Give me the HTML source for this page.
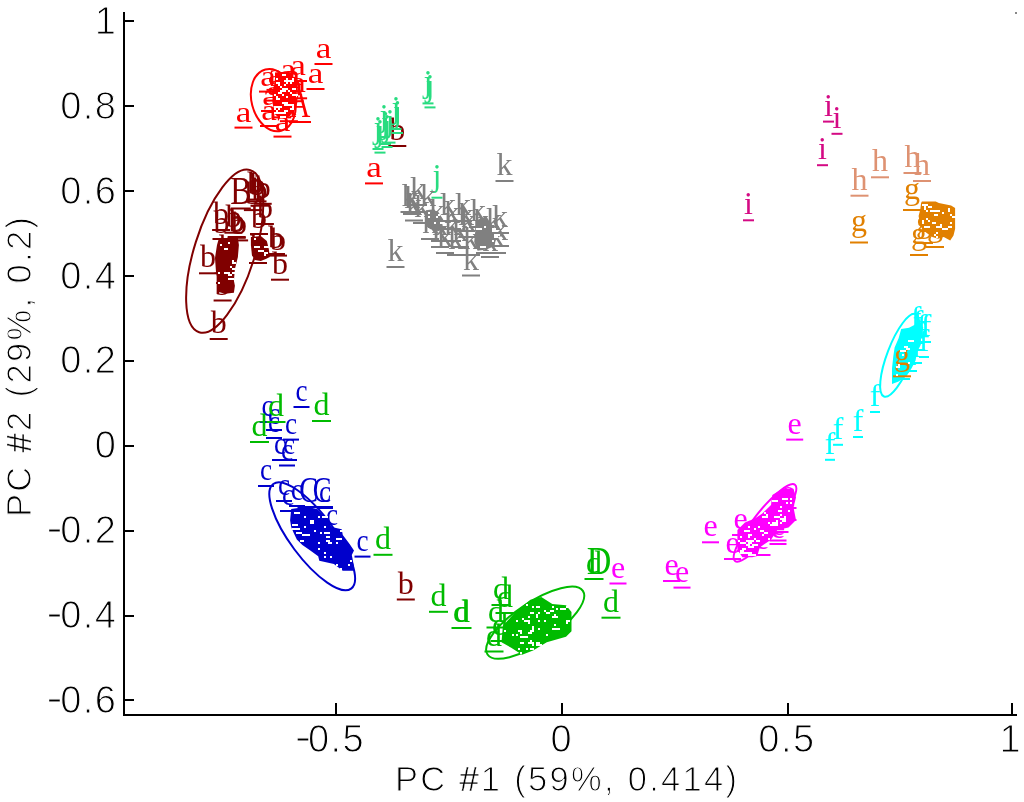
<!DOCTYPE html>
<html><head><meta charset="utf-8"><style>
html,body{margin:0;padding:0;background:#fff;}
body{width:1024px;height:802px;overflow:hidden;}
svg{display:block;}
.l{font-family:"Liberation Serif",serif;}
.th{stroke:#fff;stroke-width:1.1px;}
</style></head><body>
<svg width="1024" height="802" viewBox="0 0 1024 802">
<rect x="123" y="12" width="2" height="704" fill="#000"/>
<rect x="123" y="714" width="894" height="2" fill="#000"/>
<rect x="125" y="20" width="9" height="2" fill="#000"/>
<rect x="125" y="105" width="9" height="2" fill="#000"/>
<rect x="125" y="190" width="9" height="2" fill="#000"/>
<rect x="125" y="275" width="9" height="2" fill="#000"/>
<rect x="125" y="360" width="9" height="2" fill="#000"/>
<rect x="125" y="445" width="9" height="2" fill="#000"/>
<rect x="125" y="530" width="9" height="2" fill="#000"/>
<rect x="125" y="615" width="9" height="2" fill="#000"/>
<rect x="125" y="699" width="9" height="2" fill="#000"/>
<rect x="335" y="703" width="2" height="11" fill="#000"/>
<rect x="561" y="703" width="2" height="11" fill="#000"/>
<rect x="787" y="703" width="2" height="11" fill="#000"/>
<rect x="1011" y="703" width="2" height="11" fill="#000"/>
<text x="117.5" y="33.9" text-anchor="end" class="th" style="font-family:'Liberation Sans',sans-serif;font-size:38px;letter-spacing:1.5px">1</text>
<text x="117.5" y="118.8" text-anchor="end" class="th" style="font-family:'Liberation Sans',sans-serif;font-size:38px;letter-spacing:1.5px">0.8</text>
<text x="117.5" y="203.7" text-anchor="end" class="th" style="font-family:'Liberation Sans',sans-serif;font-size:38px;letter-spacing:1.5px">0.6</text>
<text x="117.5" y="288.5" text-anchor="end" class="th" style="font-family:'Liberation Sans',sans-serif;font-size:38px;letter-spacing:1.5px">0.4</text>
<text x="117.5" y="373.4" text-anchor="end" class="th" style="font-family:'Liberation Sans',sans-serif;font-size:38px;letter-spacing:1.5px">0.2</text>
<text x="117.5" y="458.3" text-anchor="end" class="th" style="font-family:'Liberation Sans',sans-serif;font-size:38px;letter-spacing:1.5px">0</text>
<text x="117.5" y="543.2" text-anchor="end" class="th" style="font-family:'Liberation Sans',sans-serif;font-size:38px;letter-spacing:1.5px">0.2</text>
<text transform="translate(54.5 541.2) scale(1.3 1)" text-anchor="middle" class="th" style="font-family:'Liberation Sans',sans-serif;font-size:38px;">-</text>
<text x="117.5" y="628.1" text-anchor="end" class="th" style="font-family:'Liberation Sans',sans-serif;font-size:38px;letter-spacing:1.5px">0.4</text>
<text transform="translate(54.5 626.1) scale(1.3 1)" text-anchor="middle" class="th" style="font-family:'Liberation Sans',sans-serif;font-size:38px;">-</text>
<text x="117.5" y="712.9" text-anchor="end" class="th" style="font-family:'Liberation Sans',sans-serif;font-size:38px;letter-spacing:1.5px">0.6</text>
<text transform="translate(54.5 710.9) scale(1.3 1)" text-anchor="middle" class="th" style="font-family:'Liberation Sans',sans-serif;font-size:38px;">-</text>
<text x="336.6" y="751.5" text-anchor="middle" class="th" style="font-family:'Liberation Sans',sans-serif;font-size:38px;letter-spacing:1.5px">0.5</text>
<text transform="translate(303 749.5) scale(1.3 1)" text-anchor="middle" class="th" style="font-family:'Liberation Sans',sans-serif;font-size:38px;">-</text>
<text x="561.8" y="751.5" text-anchor="middle" class="th" style="font-family:'Liberation Sans',sans-serif;font-size:38px;letter-spacing:1.5px">0</text>
<text x="787.0" y="751.5" text-anchor="middle" class="th" style="font-family:'Liberation Sans',sans-serif;font-size:38px;letter-spacing:1.5px">0.5</text>
<text x="1010.7" y="751.5" text-anchor="middle" class="th" style="font-family:'Liberation Sans',sans-serif;font-size:38px;letter-spacing:1.5px">1</text>
<text x="395" y="791" class="th" style="font-family:'Liberation Sans',sans-serif;font-size:34.5px;" textLength="342" lengthAdjust="spacing">PC <tspan style="stroke-width:0.3px">#</tspan>1 (59%, 0.414)</text>
<text transform="translate(31,517) rotate(-90)" x="0" y="0" class="th" style="font-family:'Liberation Sans',sans-serif;font-size:34.5px;" textLength="300" lengthAdjust="spacing">PC <tspan style="stroke-width:0.3px">#</tspan>2 (29%, 0.2)</text>
<rect x="1015" y="12" width="2" height="2" fill="#888"/>
<ellipse cx="273.3" cy="100.1" rx="21.7" ry="31.7" transform="rotate(-14.5 273.3 100.1)" fill="none" stroke="#ff0000" stroke-width="2"/>
<polygon points="275.0,72.5 285.4,71.7 291.4,72.5 294.4,80.0 297.4,82.2 297.4,89.7 295.9,96.4 297.4,102.4 295.9,106.9 292.9,111.4 289.9,115.9 284.7,118.9 278.7,117.4 273.5,112.9 273.5,106.9 272.7,100.9 273.5,94.9 272.7,90.4 274.2,84.5 275.0,78.5" fill="#ff0000"/>
<text class="l" transform="translate(292.4 85.3) scale(1.1 0.9)" fill="#ff0000" font-size="32" text-anchor="middle">a</text>
<rect x="283.4" y="90.3" width="18" height="2" fill="#ff0000"/>
<text class="l" transform="translate(283.9 96.2) scale(1.1 0.9)" fill="#ff0000" font-size="32" text-anchor="middle">a</text>
<rect x="274.9" y="101.2" width="18" height="2" fill="#ff0000"/>
<text class="l" transform="translate(288.9 115.2) scale(1.1 0.9)" fill="#ff0000" font-size="32" text-anchor="middle">a</text>
<rect x="279.9" y="120.2" width="18" height="2" fill="#ff0000"/>
<text class="l" transform="translate(294.7 95.2) scale(1.1 0.9)" fill="#ff0000" font-size="32" text-anchor="middle">a</text>
<rect x="285.7" y="100.2" width="18" height="2" fill="#ff0000"/>
<text class="l" transform="translate(282.3 111.4) scale(1.1 0.9)" fill="#ff0000" font-size="32" text-anchor="middle">a</text>
<rect x="273.3" y="116.4" width="18" height="2" fill="#ff0000"/>
<text class="l" transform="translate(298.1 92.3) scale(1.1 0.9)" fill="#ff0000" font-size="32" text-anchor="middle">a</text>
<rect x="289.1" y="97.3" width="18" height="2" fill="#ff0000"/>
<text class="l" transform="translate(274.9 94.6) scale(1.1 0.9)" fill="#ff0000" font-size="32" text-anchor="middle">a</text>
<rect x="265.9" y="99.6" width="18" height="2" fill="#ff0000"/>
<text class="l" transform="translate(282.0 98.8) scale(1.1 0.9)" fill="#ff0000" font-size="32" text-anchor="middle">a</text>
<rect x="273.0" y="103.8" width="18" height="2" fill="#ff0000"/>
<text class="l" transform="translate(275.5 83.9) scale(1.1 0.9)" fill="#ff0000" font-size="32" text-anchor="middle">a</text>
<rect x="266.5" y="88.9" width="18" height="2" fill="#ff0000"/>
<text class="l" transform="translate(298.0 75.0) scale(1.1 0.9)" fill="#ff0000" font-size="32" text-anchor="middle">a</text>
<rect x="289.0" y="80.0" width="18" height="2" fill="#ff0000"/>
<text class="l" transform="translate(288.0 79.0) scale(1.1 0.9)" fill="#ff0000" font-size="32" text-anchor="middle">a</text>
<rect x="279.0" y="84.0" width="18" height="2" fill="#ff0000"/>
<text class="l" transform="translate(268.0 85.6) scale(1.1 0.9)" fill="#ff0000" font-size="32" text-anchor="middle">a</text>
<rect x="259.0" y="90.6" width="18" height="2" fill="#ff0000"/>
<text class="l" transform="translate(269.0 120.0) scale(1.1 0.9)" fill="#ff0000" font-size="32" text-anchor="middle">a</text>
<rect x="260.0" y="125.0" width="18" height="2" fill="#ff0000"/>
<text class="l" transform="translate(282.5 130.6) scale(1.1 0.9)" fill="#ff0000" font-size="32" text-anchor="middle">a</text>
<rect x="273.5" y="135.6" width="18" height="2" fill="#ff0000"/>
<text class="l" transform="translate(270.0 105.0) scale(1.1 0.9)" fill="#ff0000" font-size="32" text-anchor="middle">a</text>
<rect x="261.0" y="110.0" width="18" height="2" fill="#ff0000"/>
<text class="l" transform="translate(300.0 117.0) scale(0.72 1.0)" fill="#ff0000" font-size="40" text-anchor="middle">A</text>
<rect x="289.0" y="121.0" width="22" height="2" fill="#ff0000"/>
<text class="l" transform="translate(323.5 58.0) scale(1.1 0.9)" fill="#ff0000" font-size="32" text-anchor="middle">a</text>
<rect x="314.5" y="63.0" width="18" height="2" fill="#ff0000"/>
<text class="l" transform="translate(315.5 83.0) scale(1.1 0.9)" fill="#ff0000" font-size="32" text-anchor="middle">a</text>
<rect x="306.5" y="88.0" width="18" height="2" fill="#ff0000"/>
<text class="l" transform="translate(243.5 121.6) scale(1.1 0.9)" fill="#ff0000" font-size="32" text-anchor="middle">a</text>
<rect x="234.5" y="126.6" width="18" height="2" fill="#ff0000"/>
<text class="l" transform="translate(374.0 177.4) scale(1.1 0.9)" fill="#ff0000" font-size="32" text-anchor="middle">a</text>
<rect x="365.0" y="182.4" width="18" height="2" fill="#ff0000"/>
<ellipse cx="224.7" cy="251.2" rx="30.3" ry="85" transform="rotate(17.5 224.7 251.2)" fill="none" stroke="#800000" stroke-width="2"/>
<polygon points="219.0,238.0 237.9,238.0 238.9,244.9 237.9,256.9 234.9,268.9 233.9,280.8 234.9,285.8 233.9,292.8 224.9,293.8 218.0,291.8 218.0,280.8 216.0,271.9 215.0,257.9 217.0,244.9" fill="#800000"/>
<polygon points="250.9,237.0 260.8,236.0 266.8,241.0 268.8,248.9 269.8,256.9 265.8,258.9 260.8,260.9 254.9,259.9 251.9,254.9 250.9,244.9" fill="#800000"/>
<text class="l" x="239.1" y="234.4" fill="#800000" font-size="32" text-anchor="middle">b</text>
<rect x="230.1" y="239.4" width="18" height="2" fill="#800000"/>
<text class="l" x="221.1" y="224.0" fill="#800000" font-size="32" text-anchor="middle">b</text>
<rect x="212.1" y="229.0" width="18" height="2" fill="#800000"/>
<text class="l" x="236.7" y="231.8" fill="#800000" font-size="32" text-anchor="middle">b</text>
<rect x="227.7" y="236.8" width="18" height="2" fill="#800000"/>
<text class="l" x="233.4" y="226.7" fill="#800000" font-size="32" text-anchor="middle">b</text>
<rect x="224.4" y="231.7" width="18" height="2" fill="#800000"/>
<text class="l" x="255.3" y="193.6" fill="#800000" font-size="32" text-anchor="middle">b</text>
<rect x="246.3" y="198.6" width="18" height="2" fill="#800000"/>
<text class="l" x="257.5" y="195.4" fill="#800000" font-size="32" text-anchor="middle">b</text>
<rect x="248.5" y="200.4" width="18" height="2" fill="#800000"/>
<text class="l" x="252.9" y="204.1" fill="#800000" font-size="32" text-anchor="middle">b</text>
<rect x="243.9" y="209.1" width="18" height="2" fill="#800000"/>
<text class="l" x="264.9" y="218.0" fill="#800000" font-size="32" text-anchor="middle">b</text>
<rect x="255.9" y="223.0" width="18" height="2" fill="#800000"/>
<text class="l" x="262.7" y="197.8" fill="#800000" font-size="32" text-anchor="middle">b</text>
<rect x="253.7" y="202.8" width="18" height="2" fill="#800000"/>
<text class="l" x="259.5" y="199.7" fill="#800000" font-size="32" text-anchor="middle">b</text>
<rect x="250.5" y="204.7" width="18" height="2" fill="#800000"/>
<text class="l" x="218.7" y="333.0" fill="#800000" font-size="32" text-anchor="middle">b</text>
<rect x="209.7" y="338.0" width="18" height="2" fill="#800000"/>
<text class="l" x="280.0" y="273.7" fill="#800000" font-size="32" text-anchor="middle">b</text>
<rect x="271.0" y="278.7" width="18" height="2" fill="#800000"/>
<text class="l" x="278.0" y="249.6" fill="#800000" font-size="32" text-anchor="middle">b</text>
<rect x="269.0" y="254.6" width="18" height="2" fill="#800000"/>
<text class="l" x="208.0" y="267.3" fill="#800000" font-size="32" text-anchor="middle">b</text>
<rect x="199.0" y="272.3" width="18" height="2" fill="#800000"/>
<text class="l" x="222.6" y="294.5" fill="#800000" font-size="32" text-anchor="middle">b</text>
<rect x="213.6" y="299.5" width="18" height="2" fill="#800000"/>
<text class="l" x="259.0" y="228.0" fill="#800000" font-size="32" text-anchor="middle">b</text>
<rect x="250.0" y="233.0" width="18" height="2" fill="#800000"/>
<text class="l" x="236.7" y="231.0" fill="#800000" font-size="32" text-anchor="middle">b</text>
<rect x="227.7" y="236.0" width="18" height="2" fill="#800000"/>
<text class="l" x="221.5" y="233.0" fill="#800000" font-size="32" text-anchor="middle">b</text>
<rect x="212.5" y="238.0" width="18" height="2" fill="#800000"/>
<text class="l" x="276.0" y="248.0" fill="#800000" font-size="32" text-anchor="middle">b</text>
<rect x="267.0" y="253.0" width="18" height="2" fill="#800000"/>
<text class="l" x="225.0" y="277.0" fill="#800000" font-size="32" text-anchor="middle">b</text>
<rect x="216.0" y="282.0" width="18" height="2" fill="#800000"/>
<text class="l" x="227.0" y="257.0" fill="#800000" font-size="32" text-anchor="middle">b</text>
<rect x="218.0" y="262.0" width="18" height="2" fill="#800000"/>
<text class="l" x="258.0" y="257.0" fill="#800000" font-size="32" text-anchor="middle">b</text>
<rect x="249.0" y="262.0" width="18" height="2" fill="#800000"/>
<text class="l" transform="translate(240.8 203.5) scale(0.8 1)" fill="#800000" font-size="40" text-anchor="middle">B</text>
<rect x="230.8" y="207.5" width="20" height="2" fill="#800000"/>
<text class="l" x="397.3" y="140.0" fill="#800000" font-size="32" text-anchor="middle">b</text>
<rect x="388.3" y="145.0" width="18" height="2" fill="#800000"/>
<text class="l" x="405.8" y="593.5" fill="#800000" font-size="32" text-anchor="middle">b</text>
<rect x="396.8" y="598.5" width="18" height="2" fill="#800000"/>
<text class="l" x="430.0" y="95.9" fill="#28dc80" font-size="32" text-anchor="middle">j</text>
<rect x="424.5" y="106.4" width="11" height="2" fill="#28dc80"/>
<text class="l" x="428.0" y="91.9" fill="#28dc80" font-size="32" text-anchor="middle">j</text>
<rect x="422.5" y="102.4" width="11" height="2" fill="#28dc80"/>
<text class="l" x="397.5" y="121.5" fill="#28dc80" font-size="32" text-anchor="middle">j</text>
<rect x="392.0" y="132.0" width="11" height="2" fill="#28dc80"/>
<text class="l" x="385.5" y="132.5" fill="#28dc80" font-size="32" text-anchor="middle">j</text>
<rect x="380.0" y="143.0" width="11" height="2" fill="#28dc80"/>
<text class="l" x="380.0" y="141.1" fill="#28dc80" font-size="32" text-anchor="middle">j</text>
<rect x="374.5" y="151.6" width="11" height="2" fill="#28dc80"/>
<text class="l" x="437.0" y="186.2" fill="#28dc80" font-size="32" text-anchor="middle">j</text>
<rect x="431.5" y="196.7" width="11" height="2" fill="#28dc80"/>
<text class="l" x="390.0" y="131.1" fill="#28dc80" font-size="32" text-anchor="middle">j</text>
<rect x="384.5" y="141.6" width="11" height="2" fill="#28dc80"/>
<text class="l" x="396.0" y="117.5" fill="#28dc80" font-size="32" text-anchor="middle">j</text>
<rect x="390.5" y="128.0" width="11" height="2" fill="#28dc80"/>
<text class="l" x="384.0" y="125.5" fill="#28dc80" font-size="32" text-anchor="middle">j</text>
<rect x="378.5" y="136.0" width="11" height="2" fill="#28dc80"/>
<text class="l" x="387.0" y="135.5" fill="#28dc80" font-size="32" text-anchor="middle">j</text>
<rect x="381.5" y="146.0" width="11" height="2" fill="#28dc80"/>
<text class="l" x="378.0" y="137.5" fill="#28dc80" font-size="32" text-anchor="middle">j</text>
<rect x="372.5" y="148.0" width="11" height="2" fill="#28dc80"/>
<polygon points="425.7,210.3 434.1,209.2 442.4,218.7 442.4,226.0 439.3,231.2 429.9,229.1 425.7,223.9 426.7,215.5" fill="#808080"/>
<polygon points="475.3,220.7 486.4,216.3 490.9,224.0 497.6,230.7 496.5,237.4 494.2,246.3 486.4,249.6 477.6,250.7 474.2,241.9 475.3,230.7" fill="#808080"/>
<text class="l" x="409.5" y="206.0" fill="#808080" font-size="32" text-anchor="middle">k</text>
<rect x="400.5" y="211.0" width="18" height="2" fill="#808080"/>
<text class="l" x="428.0" y="206.0" fill="#808080" font-size="32" text-anchor="middle">k</text>
<rect x="419.0" y="211.0" width="18" height="2" fill="#808080"/>
<text class="l" x="448.0" y="215.0" fill="#808080" font-size="32" text-anchor="middle">k</text>
<rect x="439.0" y="220.0" width="18" height="2" fill="#808080"/>
<text class="l" x="463.0" y="215.0" fill="#808080" font-size="32" text-anchor="middle">k</text>
<rect x="454.0" y="220.0" width="18" height="2" fill="#808080"/>
<text class="l" x="481.0" y="231.0" fill="#808080" font-size="32" text-anchor="middle">k</text>
<rect x="472.0" y="236.0" width="18" height="2" fill="#808080"/>
<text class="l" x="494.0" y="229.5" fill="#808080" font-size="32" text-anchor="middle">k</text>
<rect x="485.0" y="234.5" width="18" height="2" fill="#808080"/>
<text class="l" x="456.0" y="249.0" fill="#808080" font-size="32" text-anchor="middle">k</text>
<rect x="447.0" y="254.0" width="18" height="2" fill="#808080"/>
<text class="l" x="471.0" y="249.0" fill="#808080" font-size="32" text-anchor="middle">k</text>
<rect x="462.0" y="254.0" width="18" height="2" fill="#808080"/>
<text class="l" x="490.0" y="251.0" fill="#808080" font-size="32" text-anchor="middle">k</text>
<rect x="481.0" y="256.0" width="18" height="2" fill="#808080"/>
<text class="l" x="471.0" y="269.5" fill="#808080" font-size="32" text-anchor="middle">k</text>
<rect x="462.0" y="274.5" width="18" height="2" fill="#808080"/>
<text class="l" x="504.5" y="175.0" fill="#808080" font-size="32" text-anchor="middle">k</text>
<rect x="495.5" y="180.0" width="18" height="2" fill="#808080"/>
<text class="l" x="395.5" y="261.0" fill="#808080" font-size="32" text-anchor="middle">k</text>
<rect x="386.5" y="266.0" width="18" height="2" fill="#808080"/>
<text class="l" x="414.0" y="214.5" fill="#808080" font-size="32" text-anchor="middle">k</text>
<rect x="405.0" y="219.5" width="18" height="2" fill="#808080"/>
<text class="l" x="430.0" y="233.0" fill="#808080" font-size="32" text-anchor="middle">k</text>
<rect x="421.0" y="238.0" width="18" height="2" fill="#808080"/>
<text class="l" x="445.0" y="247.0" fill="#808080" font-size="32" text-anchor="middle">k</text>
<rect x="436.0" y="252.0" width="18" height="2" fill="#808080"/>
<text class="l" x="437.0" y="221.0" fill="#808080" font-size="32" text-anchor="middle">k</text>
<rect x="428.0" y="226.0" width="18" height="2" fill="#808080"/>
<text class="l" x="485.0" y="239.0" fill="#808080" font-size="32" text-anchor="middle">k</text>
<rect x="476.0" y="244.0" width="18" height="2" fill="#808080"/>
<text class="l" x="478.0" y="221.0" fill="#808080" font-size="32" text-anchor="middle">k</text>
<rect x="469.0" y="226.0" width="18" height="2" fill="#808080"/>
<text class="l" x="418.0" y="199.0" fill="#808080" font-size="32" text-anchor="middle">k</text>
<rect x="409.0" y="204.0" width="18" height="2" fill="#808080"/>
<text class="l" x="412.0" y="208.0" fill="#808080" font-size="32" text-anchor="middle">k</text>
<rect x="403.0" y="213.0" width="18" height="2" fill="#808080"/>
<text class="l" x="422.0" y="217.0" fill="#808080" font-size="32" text-anchor="middle">k</text>
<rect x="413.0" y="222.0" width="18" height="2" fill="#808080"/>
<text class="l" x="452.0" y="235.0" fill="#808080" font-size="32" text-anchor="middle">k</text>
<rect x="443.0" y="240.0" width="18" height="2" fill="#808080"/>
<text class="l" x="460.0" y="241.0" fill="#808080" font-size="32" text-anchor="middle">k</text>
<rect x="451.0" y="246.0" width="18" height="2" fill="#808080"/>
<text class="l" x="440.0" y="235.0" fill="#808080" font-size="32" text-anchor="middle">k</text>
<rect x="431.0" y="240.0" width="18" height="2" fill="#808080"/>
<text class="l" x="466.0" y="225.0" fill="#808080" font-size="32" text-anchor="middle">k</text>
<rect x="457.0" y="230.0" width="18" height="2" fill="#808080"/>
<text class="l" x="500.0" y="240.0" fill="#808080" font-size="32" text-anchor="middle">k</text>
<rect x="491.0" y="245.0" width="18" height="2" fill="#808080"/>
<text class="l" x="497.0" y="247.0" fill="#808080" font-size="32" text-anchor="middle">k</text>
<rect x="488.0" y="252.0" width="18" height="2" fill="#808080"/>
<text class="l" x="452.0" y="223.0" fill="#808080" font-size="32" text-anchor="middle">k</text>
<rect x="443.0" y="228.0" width="18" height="2" fill="#808080"/>
<text class="l" x="468.0" y="231.0" fill="#808080" font-size="32" text-anchor="middle">k</text>
<rect x="459.0" y="236.0" width="18" height="2" fill="#808080"/>
<text class="l" x="500.0" y="227.0" fill="#808080" font-size="32" text-anchor="middle">k</text>
<rect x="491.0" y="232.0" width="18" height="2" fill="#808080"/>
<text class="l" x="485.0" y="247.0" fill="#808080" font-size="32" text-anchor="middle">k</text>
<rect x="476.0" y="252.0" width="18" height="2" fill="#808080"/>
<text class="l" x="440.0" y="241.0" fill="#808080" font-size="32" text-anchor="middle">k</text>
<rect x="431.0" y="246.0" width="18" height="2" fill="#808080"/>
<ellipse cx="312.2" cy="536.3" rx="22.1" ry="65.2" transform="rotate(-36.7 312.2 536.3)" fill="none" stroke="#0000cc" stroke-width="2"/>
<polygon points="291.2,509.0 306.9,506.8 317.0,509.0 327.1,519.2 331.6,527.0 341.7,529.3 342.8,534.9 349.6,543.9 354.0,550.6 351.8,555.1 354.0,566.3 353.0,570.8 342.8,570.8 333.9,564.1 319.3,560.7 318.2,556.2 310.3,550.6 302.4,545.0 296.8,539.4 293.5,532.6 291.2,527.0 290.1,520.3" fill="#0000cc"/>
<text class="l" transform="translate(301.5 401.0) scale(0.85 1)" fill="#0000cc" font-size="32" text-anchor="middle">c</text>
<rect x="293.5" y="406.0" width="16" height="2" fill="#0000cc"/>
<text class="l" transform="translate(267.5 416.0) scale(0.85 1)" fill="#0000cc" font-size="32" text-anchor="middle">c</text>
<rect x="259.5" y="421.0" width="16" height="2" fill="#0000cc"/>
<text class="l" transform="translate(291.0 433.6) scale(0.85 1)" fill="#0000cc" font-size="32" text-anchor="middle">c</text>
<rect x="283.0" y="438.6" width="16" height="2" fill="#0000cc"/>
<text class="l" transform="translate(274.0 424.0) scale(0.85 1)" fill="#0000cc" font-size="32" text-anchor="middle">c</text>
<rect x="266.0" y="429.0" width="16" height="2" fill="#0000cc"/>
<text class="l" transform="translate(274.0 432.0) scale(0.85 1)" fill="#0000cc" font-size="32" text-anchor="middle">c</text>
<rect x="266.0" y="437.0" width="16" height="2" fill="#0000cc"/>
<text class="l" transform="translate(280.0 454.0) scale(0.85 1)" fill="#0000cc" font-size="32" text-anchor="middle">c</text>
<rect x="272.0" y="459.0" width="16" height="2" fill="#0000cc"/>
<text class="l" transform="translate(289.0 454.0) scale(0.85 1)" fill="#0000cc" font-size="32" text-anchor="middle">c</text>
<rect x="281.0" y="459.0" width="16" height="2" fill="#0000cc"/>
<text class="l" transform="translate(287.0 459.5) scale(0.85 1)" fill="#0000cc" font-size="32" text-anchor="middle">c</text>
<rect x="279.0" y="464.5" width="16" height="2" fill="#0000cc"/>
<text class="l" transform="translate(266.0 480.0) scale(0.85 1)" fill="#0000cc" font-size="32" text-anchor="middle">c</text>
<rect x="258.0" y="485.0" width="16" height="2" fill="#0000cc"/>
<text class="l" transform="translate(362.5 550.6) scale(0.85 1)" fill="#0000cc" font-size="32" text-anchor="middle">c</text>
<rect x="354.5" y="555.6" width="16" height="2" fill="#0000cc"/>
<text class="l" transform="translate(325.0 502.0) scale(0.85 1)" fill="#0000cc" font-size="32" text-anchor="middle">c</text>
<rect x="317.0" y="507.0" width="16" height="2" fill="#0000cc"/>
<text class="l" transform="translate(332.0 525.0) scale(0.85 1)" fill="#0000cc" font-size="32" text-anchor="middle">c</text>
<rect x="324.0" y="530.0" width="16" height="2" fill="#0000cc"/>
<text class="l" transform="translate(288.0 505.0) scale(0.85 1)" fill="#0000cc" font-size="32" text-anchor="middle">c</text>
<rect x="280.0" y="510.0" width="16" height="2" fill="#0000cc"/>
<text class="l" transform="translate(297.0 500.0) scale(0.85 1)" fill="#0000cc" font-size="32" text-anchor="middle">c</text>
<rect x="289.0" y="505.0" width="16" height="2" fill="#0000cc"/>
<text class="l" transform="translate(284.0 495.0) scale(0.85 1)" fill="#0000cc" font-size="32" text-anchor="middle">c</text>
<rect x="276.0" y="500.0" width="16" height="2" fill="#0000cc"/>
<text class="l" transform="translate(308.5 502.0) scale(0.78 1)" fill="#0000cc" font-size="36" text-anchor="middle">C</text>
<rect x="297.5" y="506.0" width="22" height="2" fill="#0000cc"/>
<text class="l" transform="translate(322.0 502.0) scale(0.78 1)" fill="#0000cc" font-size="36" text-anchor="middle">C</text>
<rect x="311.0" y="506.0" width="22" height="2" fill="#0000cc"/>
<ellipse cx="535.2" cy="622.7" rx="57.3" ry="20.4" transform="rotate(-33.7 535.2 622.7)" fill="none" stroke="#00bb00" stroke-width="2"/>
<polygon points="515.3,612.1 530.4,599.8 541.3,597.0 552.3,603.9 566.0,605.3 571.5,612.1 571.5,631.3 566.0,636.8 546.8,642.3 533.1,650.5 522.1,654.7 511.2,647.8 501.5,642.3 502.9,625.8" fill="#00bb00"/>
<text class="l" x="276.0" y="416.0" fill="#00bb00" font-size="32" text-anchor="middle">d</text>
<rect x="266.5" y="421.0" width="19" height="2" fill="#00bb00"/>
<text class="l" x="259.5" y="436.0" fill="#00bb00" font-size="32" text-anchor="middle">d</text>
<rect x="250.0" y="441.0" width="19" height="2" fill="#00bb00"/>
<text class="l" x="321.5" y="415.0" fill="#00bb00" font-size="32" text-anchor="middle">d</text>
<rect x="312.0" y="420.0" width="19" height="2" fill="#00bb00"/>
<text class="l" x="383.0" y="548.8" fill="#00bb00" font-size="32" text-anchor="middle">d</text>
<rect x="373.5" y="553.8" width="19" height="2" fill="#00bb00"/>
<text class="l" x="438.5" y="605.8" fill="#00bb00" font-size="32" text-anchor="middle">d</text>
<rect x="429.0" y="610.8" width="19" height="2" fill="#00bb00"/>
<text class="l" x="461.0" y="622.0" fill="#00bb00" font-size="32" text-anchor="middle">d</text>
<rect x="451.5" y="627.0" width="19" height="2" fill="#00bb00"/>
<text class="l" x="462.0" y="622.0" fill="#00bb00" font-size="32" text-anchor="middle">d</text>
<rect x="452.5" y="627.0" width="19" height="2" fill="#00bb00"/>
<text class="l" x="501.0" y="599.0" fill="#00bb00" font-size="32" text-anchor="middle">d</text>
<rect x="491.5" y="604.0" width="19" height="2" fill="#00bb00"/>
<text class="l" x="496.0" y="621.5" fill="#00bb00" font-size="32" text-anchor="middle">d</text>
<rect x="486.5" y="626.5" width="19" height="2" fill="#00bb00"/>
<text class="l" x="494.0" y="645.5" fill="#00bb00" font-size="32" text-anchor="middle">d</text>
<rect x="484.5" y="650.5" width="19" height="2" fill="#00bb00"/>
<text class="l" x="611.0" y="611.7" fill="#00bb00" font-size="32" text-anchor="middle">d</text>
<rect x="601.5" y="616.7" width="19" height="2" fill="#00bb00"/>
<text class="l" x="594.0" y="573.0" fill="#00bb00" font-size="32" text-anchor="middle">d</text>
<rect x="584.5" y="578.0" width="19" height="2" fill="#00bb00"/>
<text class="l" x="505.0" y="607.0" fill="#00bb00" font-size="32" text-anchor="middle">d</text>
<rect x="495.5" y="612.0" width="19" height="2" fill="#00bb00"/>
<text class="l" x="500.0" y="635.0" fill="#00bb00" font-size="32" text-anchor="middle">d</text>
<rect x="490.5" y="640.0" width="19" height="2" fill="#00bb00"/>
<text class="l" transform="translate(599.0 574.0) scale(0.85 1)" fill="#00bb00" font-size="40" text-anchor="middle">D</text>
<polygon points="772.3,494.9 782.3,488.7 793.5,488.7 796.0,497.4 793.5,507.4 796.0,519.9 788.5,527.4 777.3,529.9 771.0,539.8 759.8,547.3 757.3,556.0 752.3,557.3 742.4,557.3 737.4,549.8 737.4,539.8 737.4,529.9 744.9,522.4 754.8,518.6 762.3,513.6 771.0,504.9" fill="#ff00ff"/>
<text class="l" x="794.7" y="433.6" fill="#ff00ff" font-size="32" text-anchor="middle">e</text>
<rect x="786.2" y="438.6" width="17" height="2" fill="#ff00ff"/>
<text class="l" x="710.5" y="536.3" fill="#ff00ff" font-size="32" text-anchor="middle">e</text>
<rect x="702.0" y="541.3" width="17" height="2" fill="#ff00ff"/>
<text class="l" x="618.0" y="577.5" fill="#ff00ff" font-size="32" text-anchor="middle">e</text>
<rect x="609.5" y="582.5" width="17" height="2" fill="#ff00ff"/>
<text class="l" x="671.5" y="575.0" fill="#ff00ff" font-size="32" text-anchor="middle">e</text>
<rect x="663.0" y="580.0" width="17" height="2" fill="#ff00ff"/>
<text class="l" x="682.0" y="581.6" fill="#ff00ff" font-size="32" text-anchor="middle">e</text>
<rect x="673.5" y="586.6" width="17" height="2" fill="#ff00ff"/>
<text class="l" x="740.5" y="529.0" fill="#ff00ff" font-size="32" text-anchor="middle">e</text>
<rect x="732.0" y="534.0" width="17" height="2" fill="#ff00ff"/>
<text class="l" x="732.5" y="553.0" fill="#ff00ff" font-size="32" text-anchor="middle">e</text>
<rect x="724.0" y="558.0" width="17" height="2" fill="#ff00ff"/>
<text class="l" x="762.0" y="549.0" fill="#ff00ff" font-size="32" text-anchor="middle">e</text>
<rect x="753.5" y="554.0" width="17" height="2" fill="#ff00ff"/>
<text class="l" x="778.0" y="534.5" fill="#ff00ff" font-size="32" text-anchor="middle">e</text>
<rect x="769.5" y="539.5" width="17" height="2" fill="#ff00ff"/>
<text class="l" x="778.0" y="538.0" fill="#ff00ff" font-size="32" text-anchor="middle">e</text>
<rect x="769.5" y="543.0" width="17" height="2" fill="#ff00ff"/>
<text class="l" x="780.0" y="526.0" fill="#ff00ff" font-size="32" text-anchor="middle">e</text>
<rect x="771.5" y="531.0" width="17" height="2" fill="#ff00ff"/>
<text class="l" x="788.0" y="502.0" fill="#ff00ff" font-size="32" text-anchor="middle">e</text>
<rect x="779.5" y="507.0" width="17" height="2" fill="#ff00ff"/>
<text class="l" x="788.0" y="514.0" fill="#ff00ff" font-size="32" text-anchor="middle">e</text>
<rect x="779.5" y="519.0" width="17" height="2" fill="#ff00ff"/>
<text class="l" x="745.0" y="545.0" fill="#ff00ff" font-size="32" text-anchor="middle">e</text>
<rect x="736.5" y="550.0" width="17" height="2" fill="#ff00ff"/>
<ellipse cx="765" cy="522.9" rx="11.4" ry="48.5" transform="rotate(38.2 765 522.9)" fill="none" stroke="#ff00ff" stroke-width="2"/>
<ellipse cx="899.8" cy="355.3" rx="12.5" ry="44.1" transform="rotate(21 899.8 355.3)" fill="none" stroke="#00ffff" stroke-width="2"/>
<polygon points="901.2,329.0 909.0,327.7 914.3,325.1 918.2,321.2 923.4,327.7 920.8,334.3 920.8,344.7 916.9,352.6 915.6,360.4 911.6,368.3 906.4,376.2 898.6,381.4 892.0,384.0 892.0,368.3 893.3,356.5 894.6,347.4 898.6,338.2" fill="#00ffff"/>
<text class="l" x="830.0" y="453.8" fill="#00ffff" font-size="32" text-anchor="middle">f</text>
<rect x="825.0" y="458.8" width="10" height="2" fill="#00ffff"/>
<text class="l" x="838.0" y="438.8" fill="#00ffff" font-size="32" text-anchor="middle">f</text>
<rect x="833.0" y="443.8" width="10" height="2" fill="#00ffff"/>
<text class="l" x="858.0" y="431.0" fill="#00ffff" font-size="32" text-anchor="middle">f</text>
<rect x="853.0" y="436.0" width="10" height="2" fill="#00ffff"/>
<text class="l" x="875.0" y="406.0" fill="#00ffff" font-size="32" text-anchor="middle">f</text>
<rect x="870.0" y="411.0" width="10" height="2" fill="#00ffff"/>
<text class="l" x="916.0" y="327.5" fill="#00ffff" font-size="32" text-anchor="middle">f</text>
<rect x="911.0" y="332.5" width="10" height="2" fill="#00ffff"/>
<text class="l" x="918.0" y="331.5" fill="#00ffff" font-size="32" text-anchor="middle">f</text>
<rect x="913.0" y="336.5" width="10" height="2" fill="#00ffff"/>
<text class="l" x="922.0" y="336.0" fill="#00ffff" font-size="32" text-anchor="middle">f</text>
<rect x="917.0" y="341.0" width="10" height="2" fill="#00ffff"/>
<text class="l" x="926.0" y="336.0" fill="#00ffff" font-size="32" text-anchor="middle">f</text>
<rect x="921.0" y="341.0" width="10" height="2" fill="#00ffff"/>
<text class="l" x="920.0" y="344.0" fill="#00ffff" font-size="32" text-anchor="middle">f</text>
<rect x="915.0" y="349.0" width="10" height="2" fill="#00ffff"/>
<text class="l" x="924.0" y="351.0" fill="#00ffff" font-size="32" text-anchor="middle">f</text>
<rect x="919.0" y="356.0" width="10" height="2" fill="#00ffff"/>
<text class="l" x="917.0" y="357.0" fill="#00ffff" font-size="32" text-anchor="middle">f</text>
<rect x="912.0" y="362.0" width="10" height="2" fill="#00ffff"/>
<text class="l" x="912.0" y="365.0" fill="#00ffff" font-size="32" text-anchor="middle">f</text>
<rect x="907.0" y="370.0" width="10" height="2" fill="#00ffff"/>
<text class="l" x="905.0" y="373.0" fill="#00ffff" font-size="32" text-anchor="middle">f</text>
<rect x="900.0" y="378.0" width="10" height="2" fill="#00ffff"/>
<text class="l" x="902.0" y="364.8" fill="#e18000" font-size="32" text-anchor="middle">g</text>
<rect x="893.0" y="375.3" width="18" height="2" fill="#e18000"/>
<text class="l" x="859.5" y="189.7" fill="#de9272" font-size="32" text-anchor="middle">h</text>
<rect x="850.5" y="194.7" width="18" height="2" fill="#de9272"/>
<text class="l" x="880.0" y="171.3" fill="#de9272" font-size="32" text-anchor="middle">h</text>
<rect x="871.0" y="176.3" width="18" height="2" fill="#de9272"/>
<text class="l" x="912.5" y="167.0" fill="#de9272" font-size="32" text-anchor="middle">h</text>
<rect x="903.5" y="172.0" width="18" height="2" fill="#de9272"/>
<text class="l" x="922.0" y="175.0" fill="#de9272" font-size="32" text-anchor="middle">h</text>
<rect x="913.0" y="180.0" width="18" height="2" fill="#de9272"/>
<polygon points="921.9,201.5 935.7,201.5 938.9,203.1 951.1,205.5 955.1,208.0 955.1,217.7 955.1,229.0 953.5,235.5 950.2,240.4 943.8,237.1 938.1,238.8 932.4,237.1 926.7,233.1 922.7,229.8 920.3,225.8 918.6,216.1 920.3,209.6 921.1,203.1" fill="#e18000"/>
<text class="l" x="912.0" y="198.5" fill="#e18000" font-size="32" text-anchor="middle">g</text>
<rect x="903.0" y="209.0" width="18" height="2" fill="#e18000"/>
<text class="l" x="859.0" y="231.0" fill="#e18000" font-size="32" text-anchor="middle">g</text>
<rect x="850.0" y="241.5" width="18" height="2" fill="#e18000"/>
<text class="l" x="919.0" y="243.5" fill="#e18000" font-size="32" text-anchor="middle">g</text>
<rect x="910.0" y="254.0" width="18" height="2" fill="#e18000"/>
<text class="l" x="935.0" y="235.5" fill="#e18000" font-size="32" text-anchor="middle">g</text>
<rect x="926.0" y="246.0" width="18" height="2" fill="#e18000"/>
<text class="l" x="924.0" y="231.5" fill="#e18000" font-size="32" text-anchor="middle">g</text>
<rect x="915.0" y="242.0" width="18" height="2" fill="#e18000"/>
<text class="l" x="748.5" y="214.3" fill="#d40a84" font-size="32" text-anchor="middle">i</text>
<rect x="743.0" y="219.3" width="11" height="2" fill="#d40a84"/>
<text class="l" x="822.5" y="159.2" fill="#d40a84" font-size="32" text-anchor="middle">i</text>
<rect x="817.0" y="164.2" width="11" height="2" fill="#d40a84"/>
<text class="l" x="828.5" y="115.6" fill="#d40a84" font-size="32" text-anchor="middle">i</text>
<rect x="823.0" y="120.6" width="11" height="2" fill="#d40a84"/>
<text class="l" x="837.0" y="127.8" fill="#d40a84" font-size="32" text-anchor="middle">i</text>
<rect x="831.5" y="132.8" width="11" height="2" fill="#d40a84"/>
<rect x="288" y="80" width="6" height="2" fill="#fff"/>
<rect x="290" y="82" width="2" height="2" fill="#fff"/>
<rect x="292" y="88" width="4" height="2" fill="#fff"/>
<rect x="274" y="108" width="2" height="2" fill="#fff"/>
<rect x="278" y="108" width="2" height="2" fill="#fff"/>
<rect x="288" y="90" width="2" height="2" fill="#fff"/>
<rect x="274" y="94" width="2" height="2" fill="#fff"/>
<rect x="276" y="110" width="2" height="2" fill="#fff"/>
<rect x="282" y="90" width="4" height="2" fill="#fff"/>
<rect x="274" y="106" width="4" height="2" fill="#fff"/>
<rect x="286" y="88" width="2" height="2" fill="#fff"/>
<rect x="282" y="88" width="2" height="2" fill="#fff"/>
<rect x="286" y="78" width="2" height="2" fill="#fff"/>
<rect x="284" y="84" width="2" height="2" fill="#fff"/>
<rect x="286" y="80" width="6" height="2" fill="#fff"/>
<rect x="280" y="112" width="6" height="2" fill="#fff"/>
<rect x="282" y="116" width="4" height="2" fill="#fff"/>
<rect x="290" y="108" width="4" height="2" fill="#fff"/>
<rect x="292" y="78" width="2" height="2" fill="#fff"/>
<rect x="280" y="90" width="2" height="2" fill="#fff"/>
<rect x="286" y="104" width="2" height="2" fill="#fff"/>
<rect x="284" y="80" width="2" height="2" fill="#fff"/>
<rect x="278" y="82" width="2" height="2" fill="#fff"/>
<rect x="286" y="110" width="2" height="2" fill="#fff"/>
<rect x="278" y="84" width="2" height="2" fill="#fff"/>
<rect x="286" y="110" width="2" height="2" fill="#fff"/>
<rect x="292" y="94" width="2" height="2" fill="#fff"/>
<rect x="286" y="96" width="2" height="2" fill="#fff"/>
<rect x="282" y="88" width="4" height="2" fill="#fff"/>
<rect x="282" y="74" width="2" height="2" fill="#fff"/>
<rect x="286" y="82" width="2" height="2" fill="#fff"/>
<rect x="276" y="78" width="2" height="2" fill="#fff"/>
<rect x="284" y="104" width="2" height="2" fill="#fff"/>
<rect x="286" y="102" width="2" height="2" fill="#fff"/>
<rect x="276" y="98" width="2" height="2" fill="#fff"/>
<rect x="280" y="86" width="2" height="2" fill="#fff"/>
<rect x="278" y="92" width="4" height="2" fill="#fff"/>
<rect x="278" y="98" width="2" height="2" fill="#fff"/>
<rect x="290" y="92" width="2" height="2" fill="#fff"/>
<rect x="280" y="106" width="2" height="2" fill="#fff"/>
<rect x="292" y="94" width="6" height="2" fill="#fff"/>
<rect x="282" y="94" width="2" height="2" fill="#fff"/>
<rect x="284" y="110" width="2" height="2" fill="#fff"/>
<rect x="274" y="112" width="6" height="2" fill="#fff"/>
<rect x="288" y="104" width="6" height="2" fill="#fff"/>
<rect x="292" y="88" width="2" height="2" fill="#fff"/>
<rect x="276" y="106" width="4" height="2" fill="#fff"/>
<rect x="282" y="102" width="6" height="2" fill="#fff"/>
<rect x="276" y="82" width="2" height="2" fill="#fff"/>
<rect x="288" y="80" width="6" height="2" fill="#fff"/>
<rect x="292" y="106" width="2" height="2" fill="#fff"/>
<rect x="284" y="74" width="2" height="2" fill="#fff"/>
<rect x="292" y="104" width="2" height="2" fill="#fff"/>
<rect x="276" y="96" width="2" height="2" fill="#fff"/>
<rect x="280" y="116" width="2" height="2" fill="#fff"/>
<rect x="218" y="272" width="2" height="2" fill="#fff"/>
<rect x="228" y="274" width="2" height="2" fill="#fff"/>
<rect x="224" y="272" width="6" height="2" fill="#fff"/>
<rect x="228" y="278" width="6" height="2" fill="#fff"/>
<rect x="230" y="266" width="2" height="2" fill="#fff"/>
<rect x="232" y="260" width="2" height="2" fill="#fff"/>
<rect x="228" y="242" width="2" height="2" fill="#fff"/>
<rect x="232" y="272" width="4" height="2" fill="#fff"/>
<rect x="232" y="268" width="4" height="2" fill="#fff"/>
<rect x="230" y="274" width="2" height="2" fill="#fff"/>
<rect x="220" y="244" width="2" height="2" fill="#fff"/>
<rect x="224" y="248" width="4" height="2" fill="#fff"/>
<rect x="232" y="262" width="4" height="2" fill="#fff"/>
<rect x="218" y="282" width="2" height="2" fill="#fff"/>
<rect x="264" y="254" width="2" height="2" fill="#fff"/>
<rect x="264" y="252" width="4" height="2" fill="#fff"/>
<rect x="254" y="238" width="2" height="2" fill="#fff"/>
<rect x="264" y="252" width="2" height="2" fill="#fff"/>
<rect x="254" y="246" width="6" height="2" fill="#fff"/>
<rect x="264" y="246" width="6" height="2" fill="#fff"/>
<rect x="266" y="252" width="2" height="2" fill="#fff"/>
<rect x="258" y="250" width="6" height="2" fill="#fff"/>
<rect x="438" y="214" width="2" height="2" fill="#fff"/>
<rect x="428" y="212" width="2" height="2" fill="#fff"/>
<rect x="436" y="216" width="2" height="2" fill="#fff"/>
<rect x="440" y="222" width="4" height="2" fill="#fff"/>
<rect x="428" y="216" width="2" height="2" fill="#fff"/>
<rect x="434" y="222" width="2" height="2" fill="#fff"/>
<rect x="494" y="228" width="2" height="2" fill="#fff"/>
<rect x="492" y="228" width="2" height="2" fill="#fff"/>
<rect x="494" y="234" width="2" height="2" fill="#fff"/>
<rect x="476" y="228" width="6" height="2" fill="#fff"/>
<rect x="492" y="240" width="2" height="2" fill="#fff"/>
<rect x="492" y="230" width="6" height="2" fill="#fff"/>
<rect x="494" y="236" width="4" height="2" fill="#fff"/>
<rect x="494" y="234" width="6" height="2" fill="#fff"/>
<rect x="480" y="246" width="6" height="2" fill="#fff"/>
<rect x="484" y="226" width="2" height="2" fill="#fff"/>
<rect x="336" y="564" width="2" height="2" fill="#fff"/>
<rect x="326" y="540" width="4" height="2" fill="#fff"/>
<rect x="318" y="548" width="2" height="2" fill="#fff"/>
<rect x="322" y="516" width="2" height="2" fill="#fff"/>
<rect x="314" y="530" width="2" height="2" fill="#fff"/>
<rect x="302" y="534" width="2" height="2" fill="#fff"/>
<rect x="296" y="528" width="2" height="2" fill="#fff"/>
<rect x="340" y="530" width="6" height="2" fill="#fff"/>
<rect x="310" y="522" width="4" height="2" fill="#fff"/>
<rect x="318" y="516" width="2" height="2" fill="#fff"/>
<rect x="322" y="516" width="2" height="2" fill="#fff"/>
<rect x="304" y="516" width="2" height="2" fill="#fff"/>
<rect x="350" y="560" width="2" height="2" fill="#fff"/>
<rect x="326" y="536" width="4" height="2" fill="#fff"/>
<rect x="304" y="534" width="6" height="2" fill="#fff"/>
<rect x="292" y="528" width="6" height="2" fill="#fff"/>
<rect x="294" y="512" width="6" height="2" fill="#fff"/>
<rect x="336" y="538" width="6" height="2" fill="#fff"/>
<rect x="336" y="542" width="2" height="2" fill="#fff"/>
<rect x="304" y="526" width="2" height="2" fill="#fff"/>
<rect x="296" y="528" width="4" height="2" fill="#fff"/>
<rect x="304" y="526" width="2" height="2" fill="#fff"/>
<rect x="292" y="528" width="6" height="2" fill="#fff"/>
<rect x="324" y="552" width="2" height="2" fill="#fff"/>
<rect x="292" y="524" width="2" height="2" fill="#fff"/>
<rect x="324" y="556" width="2" height="2" fill="#fff"/>
<rect x="310" y="520" width="4" height="2" fill="#fff"/>
<rect x="324" y="532" width="6" height="2" fill="#fff"/>
<rect x="322" y="516" width="6" height="2" fill="#fff"/>
<rect x="320" y="532" width="2" height="2" fill="#fff"/>
<rect x="340" y="568" width="2" height="2" fill="#fff"/>
<rect x="324" y="526" width="2" height="2" fill="#fff"/>
<rect x="300" y="540" width="4" height="2" fill="#fff"/>
<rect x="318" y="542" width="2" height="2" fill="#fff"/>
<rect x="328" y="542" width="4" height="2" fill="#fff"/>
<rect x="328" y="532" width="2" height="2" fill="#fff"/>
<rect x="348" y="564" width="2" height="2" fill="#fff"/>
<rect x="330" y="556" width="2" height="2" fill="#fff"/>
<rect x="294" y="524" width="4" height="2" fill="#fff"/>
<rect x="296" y="532" width="6" height="2" fill="#fff"/>
<rect x="518" y="630" width="4" height="2" fill="#fff"/>
<rect x="536" y="614" width="2" height="2" fill="#fff"/>
<rect x="532" y="628" width="2" height="2" fill="#fff"/>
<rect x="520" y="632" width="2" height="2" fill="#fff"/>
<rect x="560" y="608" width="6" height="2" fill="#fff"/>
<rect x="538" y="612" width="2" height="2" fill="#fff"/>
<rect x="536" y="606" width="2" height="2" fill="#fff"/>
<rect x="532" y="644" width="2" height="2" fill="#fff"/>
<rect x="544" y="620" width="2" height="2" fill="#fff"/>
<rect x="516" y="634" width="2" height="2" fill="#fff"/>
<rect x="536" y="644" width="6" height="2" fill="#fff"/>
<rect x="536" y="616" width="2" height="2" fill="#fff"/>
<rect x="554" y="628" width="6" height="2" fill="#fff"/>
<rect x="522" y="618" width="2" height="2" fill="#fff"/>
<rect x="566" y="620" width="4" height="2" fill="#fff"/>
<rect x="530" y="630" width="4" height="2" fill="#fff"/>
<rect x="554" y="614" width="2" height="2" fill="#fff"/>
<rect x="538" y="628" width="2" height="2" fill="#fff"/>
<rect x="518" y="648" width="2" height="2" fill="#fff"/>
<rect x="512" y="634" width="2" height="2" fill="#fff"/>
<rect x="522" y="636" width="4" height="2" fill="#fff"/>
<rect x="566" y="622" width="2" height="2" fill="#fff"/>
<rect x="556" y="608" width="2" height="2" fill="#fff"/>
<rect x="520" y="636" width="2" height="2" fill="#fff"/>
<rect x="566" y="606" width="2" height="2" fill="#fff"/>
<rect x="550" y="610" width="4" height="2" fill="#fff"/>
<rect x="546" y="634" width="2" height="2" fill="#fff"/>
<rect x="526" y="648" width="2" height="2" fill="#fff"/>
<rect x="516" y="620" width="2" height="2" fill="#fff"/>
<rect x="528" y="632" width="2" height="2" fill="#fff"/>
<rect x="504" y="630" width="2" height="2" fill="#fff"/>
<rect x="520" y="652" width="2" height="2" fill="#fff"/>
<rect x="546" y="612" width="4" height="2" fill="#fff"/>
<rect x="520" y="642" width="4" height="2" fill="#fff"/>
<rect x="532" y="606" width="2" height="2" fill="#fff"/>
<rect x="528" y="616" width="2" height="2" fill="#fff"/>
<rect x="554" y="624" width="2" height="2" fill="#fff"/>
<rect x="524" y="620" width="6" height="2" fill="#fff"/>
<rect x="528" y="622" width="2" height="2" fill="#fff"/>
<rect x="530" y="648" width="4" height="2" fill="#fff"/>
<rect x="538" y="620" width="2" height="2" fill="#fff"/>
<rect x="544" y="610" width="2" height="2" fill="#fff"/>
<rect x="526" y="604" width="2" height="2" fill="#fff"/>
<rect x="530" y="612" width="4" height="2" fill="#fff"/>
<rect x="538" y="606" width="2" height="2" fill="#fff"/>
<rect x="530" y="640" width="2" height="2" fill="#fff"/>
<rect x="536" y="642" width="4" height="2" fill="#fff"/>
<rect x="532" y="626" width="2" height="2" fill="#fff"/>
<rect x="524" y="636" width="4" height="2" fill="#fff"/>
<rect x="530" y="632" width="2" height="2" fill="#fff"/>
<rect x="552" y="606" width="2" height="2" fill="#fff"/>
<rect x="520" y="642" width="4" height="2" fill="#fff"/>
<rect x="552" y="628" width="2" height="2" fill="#fff"/>
<rect x="528" y="642" width="6" height="2" fill="#fff"/>
<rect x="552" y="616" width="6" height="2" fill="#fff"/>
<rect x="746" y="544" width="4" height="2" fill="#fff"/>
<rect x="780" y="514" width="2" height="2" fill="#fff"/>
<rect x="780" y="510" width="2" height="2" fill="#fff"/>
<rect x="748" y="552" width="4" height="2" fill="#fff"/>
<rect x="764" y="512" width="2" height="2" fill="#fff"/>
<rect x="750" y="540" width="4" height="2" fill="#fff"/>
<rect x="742" y="552" width="6" height="2" fill="#fff"/>
<rect x="764" y="532" width="2" height="2" fill="#fff"/>
<rect x="772" y="522" width="4" height="2" fill="#fff"/>
<rect x="748" y="526" width="2" height="2" fill="#fff"/>
<rect x="740" y="552" width="2" height="2" fill="#fff"/>
<rect x="790" y="498" width="2" height="2" fill="#fff"/>
<rect x="740" y="542" width="2" height="2" fill="#fff"/>
<rect x="746" y="540" width="4" height="2" fill="#fff"/>
<rect x="778" y="510" width="2" height="2" fill="#fff"/>
<rect x="780" y="522" width="2" height="2" fill="#fff"/>
<rect x="748" y="554" width="6" height="2" fill="#fff"/>
<rect x="742" y="548" width="4" height="2" fill="#fff"/>
<rect x="776" y="524" width="2" height="2" fill="#fff"/>
<rect x="782" y="520" width="4" height="2" fill="#fff"/>
<rect x="772" y="500" width="6" height="2" fill="#fff"/>
<rect x="774" y="522" width="4" height="2" fill="#fff"/>
<rect x="766" y="532" width="2" height="2" fill="#fff"/>
<rect x="776" y="522" width="2" height="2" fill="#fff"/>
<rect x="774" y="516" width="6" height="2" fill="#fff"/>
<rect x="744" y="530" width="6" height="2" fill="#fff"/>
<rect x="738" y="540" width="2" height="2" fill="#fff"/>
<rect x="760" y="530" width="4" height="2" fill="#fff"/>
<rect x="740" y="536" width="2" height="2" fill="#fff"/>
<rect x="790" y="502" width="2" height="2" fill="#fff"/>
<rect x="740" y="542" width="6" height="2" fill="#fff"/>
<rect x="762" y="516" width="6" height="2" fill="#fff"/>
<rect x="766" y="514" width="2" height="2" fill="#fff"/>
<rect x="782" y="498" width="2" height="2" fill="#fff"/>
<rect x="768" y="522" width="2" height="2" fill="#fff"/>
<rect x="754" y="554" width="2" height="2" fill="#fff"/>
<rect x="762" y="534" width="2" height="2" fill="#fff"/>
<rect x="756" y="540" width="4" height="2" fill="#fff"/>
<rect x="780" y="518" width="6" height="2" fill="#fff"/>
<rect x="784" y="498" width="4" height="2" fill="#fff"/>
<rect x="784" y="516" width="2" height="2" fill="#fff"/>
<rect x="774" y="522" width="2" height="2" fill="#fff"/>
<rect x="770" y="524" width="6" height="2" fill="#fff"/>
<rect x="746" y="544" width="4" height="2" fill="#fff"/>
<rect x="756" y="540" width="2" height="2" fill="#fff"/>
<rect x="754" y="528" width="2" height="2" fill="#fff"/>
<rect x="782" y="520" width="2" height="2" fill="#fff"/>
<rect x="740" y="550" width="4" height="2" fill="#fff"/>
<rect x="786" y="502" width="2" height="2" fill="#fff"/>
<rect x="788" y="510" width="2" height="2" fill="#fff"/>
<rect x="776" y="520" width="2" height="2" fill="#fff"/>
<rect x="748" y="542" width="4" height="2" fill="#fff"/>
<rect x="768" y="538" width="2" height="2" fill="#fff"/>
<rect x="758" y="526" width="2" height="2" fill="#fff"/>
<rect x="754" y="538" width="2" height="2" fill="#fff"/>
<rect x="748" y="534" width="4" height="2" fill="#fff"/>
<rect x="752" y="544" width="6" height="2" fill="#fff"/>
<rect x="780" y="506" width="2" height="2" fill="#fff"/>
<rect x="748" y="546" width="6" height="2" fill="#fff"/>
<rect x="748" y="536" width="2" height="2" fill="#fff"/>
<rect x="900" y="350" width="6" height="2" fill="#fff"/>
<rect x="908" y="340" width="6" height="2" fill="#fff"/>
<rect x="908" y="348" width="2" height="2" fill="#fff"/>
<rect x="902" y="354" width="2" height="2" fill="#fff"/>
<rect x="896" y="366" width="4" height="2" fill="#fff"/>
<rect x="906" y="348" width="2" height="2" fill="#fff"/>
<rect x="898" y="364" width="2" height="2" fill="#fff"/>
<rect x="904" y="346" width="4" height="2" fill="#fff"/>
<rect x="896" y="374" width="2" height="2" fill="#fff"/>
<rect x="908" y="362" width="2" height="2" fill="#fff"/>
<rect x="952" y="216" width="6" height="2" fill="#fff"/>
<rect x="928" y="220" width="2" height="2" fill="#fff"/>
<rect x="942" y="228" width="6" height="2" fill="#fff"/>
<rect x="934" y="214" width="2" height="2" fill="#fff"/>
<rect x="922" y="222" width="2" height="2" fill="#fff"/>
<rect x="924" y="226" width="6" height="2" fill="#fff"/>
<rect x="948" y="210" width="2" height="2" fill="#fff"/>
<rect x="932" y="222" width="4" height="2" fill="#fff"/>
<rect x="936" y="236" width="2" height="2" fill="#fff"/>
<rect x="926" y="218" width="2" height="2" fill="#fff"/>
<rect x="926" y="210" width="2" height="2" fill="#fff"/>
<rect x="936" y="214" width="2" height="2" fill="#fff"/>
<rect x="930" y="210" width="2" height="2" fill="#fff"/>
<rect x="928" y="206" width="4" height="2" fill="#fff"/>
<rect x="934" y="210" width="6" height="2" fill="#fff"/>
<rect x="936" y="226" width="6" height="2" fill="#fff"/>
<rect x="952" y="216" width="2" height="2" fill="#fff"/>
<rect x="950" y="214" width="2" height="2" fill="#fff"/>
<rect x="922" y="204" width="6" height="2" fill="#fff"/>
<rect x="924" y="208" width="2" height="2" fill="#fff"/>
<rect x="940" y="224" width="2" height="2" fill="#fff"/>
<rect x="950" y="222" width="2" height="2" fill="#fff"/>
<rect x="936" y="232" width="2" height="2" fill="#fff"/>
<rect x="924" y="206" width="2" height="2" fill="#fff"/>
<rect x="922" y="220" width="2" height="2" fill="#fff"/>
<rect x="934" y="234" width="2" height="2" fill="#fff"/>
<rect x="942" y="212" width="2" height="2" fill="#fff"/>
<rect x="948" y="208" width="2" height="2" fill="#fff"/>
<rect x="948" y="226" width="4" height="2" fill="#fff"/>
<rect x="930" y="210" width="4" height="2" fill="#fff"/>
</svg>
</body></html>
